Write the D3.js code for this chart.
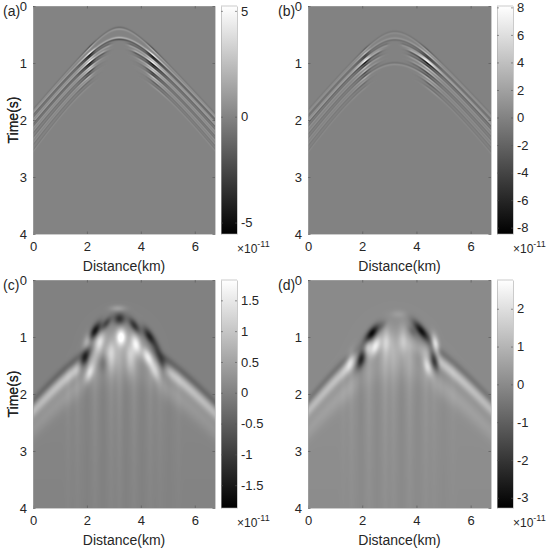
<!DOCTYPE html>
<html>
<head>
<meta charset="utf-8">
<script src="https://cdn.jsdelivr.net/npm/d3@7"></script>
<style>
  body { margin: 0; background: #fff; }
  svg text { font-family: "Liberation Sans", Arial, sans-serif; fill: #262626; }
</style>
</head>
<body>
<div id="main"></div>
<script>
// values; amplitudes are in units of 1e-11
var distanceMax = 6.75, timeMax = 4, apexX = 3.2;
var xTicks = [0, 2, 4, 6];
var tTicks = [0, 1, 2, 3, 4];
var panelNames = ["(a)", "(b)", "(c)", "(d)"];

// colour bar limits and tick labels
var aRange = [-5.54, 5.23], aTicks = [-5, 0, 5];
var bRange = [-8.46, 8.1], bTicks = [-8, -6, -4, -2, 0, 2, 4, 6, 8];
var cRange = [-1.87, 1.83], cTicks = [-1.5, -1, -0.5, 0, 0.5, 1, 1.5];
var dRange = [-3.27, 2.76], dTicks = [-3, -2, -1, 0, 1, 2];

// (a) diffraction events: apex time (s), left / right velocity (km/s), amplitude, near-apex taper (km)
var aT0 = [0.39, 0.57, 0.65, 0.74, 0.82, 0.90, 0.98, 1.06, 1.15];
var aVelL = [1.79, 1.77, 1.72, 1.67, 1.63, 1.58, 1.52, 1.47, 1.41];
var aVelR = [1.91, 1.89, 1.85, 1.81, 1.76, 1.71, 1.67, 1.62, 1.58];
var aAmp = [1.2, -2.8, 2.0, -3.0, 2.0, -1.8, 1.6, -1.3, 1.0];
var aTaper = [0, 0, 0.4, 0.6, 0.8, 1.0, 1.2, 1.4, 1.6];
var aEnvX = [0, 0.8, 1.6, 1.9, 2.1, 2.35, 2.8, 3.2, 3.6, 4.15, 4.45, 4.7, 5.1, 5.8, 6.75];
var aEnvA = [0.38, 0.4, 0.45, 1.0, 1.8, 0.6, 0.55, 0.75, 0.55, 0.65, 1.8, 1.0, 0.45, 0.4, 0.38];

// (b) diffraction events
var bT0 = [0.46, 0.58, 0.66, 0.73, 0.82, 0.92, 1.01, 1.10, 1.20];
var bVelL = [1.80, 1.77, 1.73, 1.68, 1.63, 1.57, 1.52, 1.47, 1.42];
var bVelR = [1.92, 1.89, 1.85, 1.81, 1.76, 1.71, 1.66, 1.61, 1.56];
var bAmp = [1.3, -2.4, 2.4, -4.6, 2.6, -2.2, 1.8, -1.6, 1.2];
var bTaper = [0, 0, 0.3, 0.6, 0.6, 0.7, 0, 1.3, 1.5];
var bEnvX = [0, 0.8, 1.6, 1.9, 2.1, 2.35, 2.8, 3.2, 3.6, 4.05, 4.4, 4.7, 5.0, 5.8, 6.75];
var bEnvA = [0.38, 0.4, 0.45, 0.9, 1.8, 0.55, 0.45, 0.5, 0.45, 0.7, 1.8, 1.0, 0.45, 0.4, 0.38];

// (c) broad limbs, blobs near the apex (position, amplitude, size, tilt), vertical streaks inside the cone
var cLimbT0 = [1.25, 1.6], cLimbVL = [1.65, 1.55], cLimbVR = [1.80, 1.70];
var cLimbAmp = [1.0, 0.28], cLimbSig = [0.085, 0.14];
var cEnvX = [0, 1.0, 1.6, 2.0, 3.2, 4.5, 4.9, 5.6, 6.75];
var cEnvA = [0.8, 0.95, 1.0, 0.4, 0, 0.4, 1.0, 0.95, 0.8];
var cBlobX = [3.15, 3.21, 2.72, 2.29, 3.76, 4.32, 3.27, 3.83, 2.47, 2.03, 1.92, 4.24, 4.78, 2.10, 4.52, 2.90, 3.60, 4.60, 2.60, 3.25];
var cBlobT = [0.50, 0.68, 0.76, 0.90, 0.80, 0.99, 1.00, 1.12, 1.10, 1.06, 1.38, 1.33, 1.47, 1.62, 1.60, 1.30, 1.35, 1.20, 1.45, 1.25];
var cBlobA = [0.45, -1.2, -0.9, -1.7, -1.2, -1.4, 1.8, 1.4, 1.3, 0.9, -1.6, 1.0, -1.3, 1.2, 0.9, 0.6, 0.6, -0.6, -0.4, 0.4];
var cBlobW = [0.20, 0.15, 0.13, 0.16, 0.15, 0.16, 0.13, 0.13, 0.14, 0.12, 0.13, 0.13, 0.14, 0.13, 0.13, 0.14, 0.12, 0.12, 0.12, 0.65];
var cBlobH = [0.04, 0.07, 0.06, 0.08, 0.07, 0.08, 0.10, 0.10, 0.11, 0.09, 0.10, 0.10, 0.10, 0.10, 0.10, 0.20, 0.20, 0.08, 0.12, 0.32];
var cBlobS = [0, 0, -0.4, -0.45, 0.4, 0.45, 0, 0.3, -0.3, -0.45, -0.45, 0.45, 0.45, -0.45, 0.45, 0, 0, 0.45, 0, 0];
var cStreakX = [1.3, 1.65, 2.0, 2.3, 2.6, 2.9, 3.2, 3.45, 3.75, 4.05, 4.35, 4.7, 5.05, 5.4];
var cStreakA = [0.1, 0.12, -0.1, 0.15, -0.12, 0.14, 0.17, -0.1, 0.15, -0.1, 0.13, 0.1, -0.07, 0.08];
var cHaze = 0.12;

// (d)
var dLimbT0 = [1.1, 1.55], dLimbVL = [1.58, 1.50], dLimbVR = [1.78, 1.65];
var dLimbAmp = [1.4, 0.45], dLimbSig = [0.085, 0.14];
var dEnvX = [0, 1.0, 1.5, 1.9, 3.2, 4.5, 4.9, 5.6, 6.75];
var dEnvA = [0.8, 0.95, 1.0, 0.4, 0, 0.4, 1.0, 0.95, 0.8];
var dBlobX = [3.33, 2.35, 4.19, 2.50, 4.70, 1.98, 4.66, 4.42, 2.18, 2.90, 3.50, 3.85, 2.75, 1.55, 3.20];
var dBlobT = [0.60, 0.94, 0.90, 1.15, 1.14, 1.37, 1.40, 1.52, 1.20, 1.05, 1.05, 0.90, 0.80, 1.40, 1.30];
var dBlobA = [0.4, -3.2, -2.9, 1.8, 2.3, -3.0, -2.9, 1.6, 1.5, 0.9, 1.0, -0.7, -0.6, 1.1, 0.6];
var dBlobW = [0.20, 0.18, 0.21, 0.13, 0.10, 0.15, 0.11, 0.12, 0.11, 0.12, 0.12, 0.12, 0.12, 0.12, 0.60];
var dBlobH = [0.05, 0.075, 0.075, 0.10, 0.11, 0.10, 0.11, 0.10, 0.10, 0.17, 0.17, 0.06, 0.06, 0.10, 0.30];
var dBlobS = [0, -0.4, 0.45, -0.45, 0.45, -0.45, 0.45, 0.45, -0.45, 0, 0, 0.3, -0.3, -0.45, 0];
var dStreakX = [1.3, 1.6, 1.95, 2.25, 2.55, 2.85, 3.15, 3.45, 3.75, 4.05, 4.35, 4.65, 5.0, 5.35];
var dStreakA = [0.12, 0.22, -0.22, 0.26, -0.18, 0.3, 0.22, -0.22, 0.26, -0.16, 0.22, 0.16, -0.1, 0.1];
var dHaze = 0.18;

var waveSigma = 0.016, streakWidth = 0.08;

function diffField(t0, velL, velR, amp, taper, envX, envA) {
  var env = d3.scaleLinear().domain(envX).range(envA).clamp(true);
  return function (x, t) {
    var dx = x - apexX, s = 0;
    for (var k = 0; k < t0.length; k++) {
      var v = dx < 0 ? velL[k] : velR[k];
      var T = Math.sqrt(t0[k] * t0[k] + dx * dx / (v * v));
      var u = (t - T) / waveSigma;
      if (u < -5 || u > 5) continue;
      var f = taper[k] > 0 ? Math.min(1, Math.pow(dx / taper[k], 4)) : 1;
      s += amp[k] * f * u * Math.exp(-u * u / 2) / 0.6065;
    }
    return s * env(x);
  };
}

function coneField(lt0, lvl, lvr, lamp, lsig, envX, envA, bx, bt, ba, bw, bh, bs, sx, sa, haze) {
  var env = d3.scaleLinear().domain(envX).range(envA).clamp(true);
  return function (x, t) {
    var dx = x - apexX, s = 0, e = env(x), k, u;
    for (k = 0; k < lt0.length; k++) {
      var v = dx < 0 ? lvl[k] : lvr[k];
      u = (t - Math.sqrt(lt0[k] * lt0[k] + dx * dx / (v * v))) / lsig[k];
      if (u > -7 && u < 5) {
        var w = u + 2.2;
        s += lamp[k] * e * (Math.exp(-u * u / 2) - 0.45 * Math.exp(-w * w));
      }
    }
    for (k = 0; k < bx.length; k++) {
      var gx = (x - bx[k]) / bw[k], gt = (t - bt[k] - bs[k] * (x - bx[k])) / bh[k];
      s += ba[k] * Math.exp(-(gx * gx + gt * gt) / 2);
    }
    var v0 = dx < 0 ? lvl[0] : lvr[0];
    var T0 = Math.sqrt(lt0[0] * lt0[0] + dx * dx / (v0 * v0));
    var inside = 1 / (1 + Math.exp(-(t - T0 + 0.15) / 0.08));
    var depth = Math.exp(-Math.max(0, t - 1.2) / 2.0);
    var st = haze;
    for (k = 0; k < sx.length; k++) {
      u = (x - sx[k]) / streakWidth;
      st += sa[k] * Math.exp(-u * u / 2);
    }
    return s + inside * depth * st;
  };
}

var panels = [
  { left: 33, right: 215, top: 6, bottom: 234, cbLeft: 221, cbRight: 237, range: aRange, ticks: aTicks,
    field: diffField(aT0, aVelL, aVelR, aAmp, aTaper, aEnvX, aEnvA) },
  { left: 308, right: 491, top: 6, bottom: 234, cbLeft: 497, cbRight: 513, range: bRange, ticks: bTicks,
    field: diffField(bT0, bVelL, bVelR, bAmp, bTaper, bEnvX, bEnvA) },
  { left: 33, right: 215, top: 280, bottom: 508, cbLeft: 221, cbRight: 237, range: cRange, ticks: cTicks,
    field: coneField(cLimbT0, cLimbVL, cLimbVR, cLimbAmp, cLimbSig, cEnvX, cEnvA,
      cBlobX, cBlobT, cBlobA, cBlobW, cBlobH, cBlobS, cStreakX, cStreakA, cHaze) },
  { left: 308, right: 491, top: 280, bottom: 508, cbLeft: 497, cbRight: 513, range: dRange, ticks: dTicks,
    field: coneField(dLimbT0, dLimbVL, dLimbVR, dLimbAmp, dLimbSig, dEnvX, dEnvA,
      dBlobX, dBlobT, dBlobA, dBlobW, dBlobH, dBlobS, dStreakX, dStreakA, dHaze) }
];

var svg = d3.select("#main").append("svg").attr("width", 549).attr("height", 550);
var defs = svg.append("defs");
var grad = defs.append("linearGradient").attr("id", "grayBar")
  .attr("x1", 0).attr("y1", 1).attr("x2", 0).attr("y2", 0);
grad.append("stop").attr("offset", "0%").attr("stop-color", "#000");
grad.append("stop").attr("offset", "100%").attr("stop-color", "#fff");

var boxColor = "#a8a8a8", tickColor = "#555";

panels.forEach(function (p, i) {
  var x = d3.scaleLinear().domain([0, distanceMax]).range([p.left, p.right]);
  var y = d3.scaleLinear().domain([0, timeMax]).range([p.top, p.bottom]);
  var gray = d3.scaleLinear().domain(p.range).range([0, 255]).clamp(true);

  // image raster, sampled at twice the screen resolution
  var ss = 2;
  var nx = Math.round((x(distanceMax) - x(0)) * ss), ny = Math.round((y(timeMax) - y(0)) * ss);
  var canvas = document.createElement("canvas");
  canvas.width = nx; canvas.height = ny;
  var ctx = canvas.getContext("2d");
  var img = ctx.createImageData(nx, ny);
  for (var j = 0; j < ny; j++) {
    var t = y.invert(y(0) + (j + 0.5) / ss);
    for (var k = 0; k < nx; k++) {
      var xv = x.invert(x(0) + (k + 0.5) / ss);
      var g = Math.round(gray(p.field(xv, t)));
      var o = (j * nx + k) * 4;
      img.data[o] = g; img.data[o + 1] = g; img.data[o + 2] = g; img.data[o + 3] = 255;
    }
  }
  ctx.putImageData(img, 0, 0);
  svg.append("image")
    .attr("x", x(0)).attr("y", y(0))
    .attr("width", x(distanceMax) - x(0)).attr("height", y(timeMax) - y(0))
    .attr("preserveAspectRatio", "none")
    .attr("href", canvas.toDataURL());

  // axes, ticks pointing inward like MATLAB
  var gb = svg.append("g").attr("transform", "translate(0," + y(timeMax) + ")")
    .call(d3.axisBottom(x).tickValues(xTicks).tickSizeInner(-2.5).tickSizeOuter(0).tickPadding(8)
      .tickFormat(function (d) { return String(d); }));
  var gt = svg.append("g").attr("transform", "translate(0," + y(0) + ")")
    .call(d3.axisTop(x).tickValues(xTicks).tickSizeInner(-2.5).tickSizeOuter(0).tickFormat(""));
  var gl = svg.append("g").attr("transform", "translate(" + x(0) + ",0)")
    .call(d3.axisLeft(y).tickValues(tTicks).tickSizeInner(-2.5).tickSizeOuter(0).tickPadding(6)
      .tickFormat(function (d) { return String(d); }));
  var gr = svg.append("g").attr("transform", "translate(" + x(distanceMax) + ",0)")
    .call(d3.axisRight(y).tickValues(tTicks).tickSizeInner(-2.5).tickSizeOuter(0).tickFormat(""));
  [gb, gt, gl, gr].forEach(function (g) {
    g.select(".domain").attr("stroke", boxColor).attr("stroke-width", 0.6);
    g.selectAll(".tick line").attr("stroke", tickColor).attr("stroke-width", 0.6);
    g.selectAll("text").style("font-size", "13px").attr("fill", "#262626");
  });

  svg.append("text")
    .attr("x", (p.left + p.right) / 2).attr("y", p.bottom + 37)
    .attr("text-anchor", "middle").style("font-size", "14px")
    .text("Distance(km)");
  svg.append("text")
    .attr("transform", "translate(18," + ((p.top + p.bottom) / 2) + ") rotate(-90)")
    .attr("text-anchor", "middle").style("font-size", "14px")
    .text("Time(s)");
  svg.append("text")
    .attr("x", 3 + (i % 2) * 275).attr("y", p.top + 10)
    .style("font-size", "14px")
    .text(panelNames[i]);

  // colour bar
  var cy = d3.scaleLinear().domain(p.range).range([p.bottom, p.top]);
  svg.append("rect")
    .attr("x", p.cbLeft).attr("y", p.top)
    .attr("width", p.cbRight - p.cbLeft).attr("height", p.bottom - p.top)
    .attr("fill", "url(#grayBar)");
  var cr = svg.append("g").attr("transform", "translate(" + p.cbRight + ",0)")
    .call(d3.axisRight(cy).tickValues(p.ticks).tickSizeInner(-2).tickSizeOuter(0).tickPadding(4)
      .tickFormat(function (d) { return String(d); }));
  var cl = svg.append("g").attr("transform", "translate(" + p.cbLeft + ",0)")
    .call(d3.axisLeft(cy).tickValues(p.ticks).tickSizeInner(-2).tickSizeOuter(0).tickFormat(""));
  [cr, cl].forEach(function (g) {
    g.select(".domain").attr("stroke", boxColor).attr("stroke-width", 0.6);
    g.selectAll(".tick line").attr("stroke", tickColor).attr("stroke-width", 0.6);
    g.selectAll("text").style("font-size", "13px").attr("fill", "#262626");
  });
  svg.append("line").attr("x1", p.cbLeft).attr("x2", p.cbRight).attr("y1", p.top).attr("y2", p.top)
    .attr("stroke", boxColor).attr("stroke-width", 0.6);
  svg.append("line").attr("x1", p.cbLeft).attr("x2", p.cbRight).attr("y1", p.bottom).attr("y2", p.bottom)
    .attr("stroke", boxColor).attr("stroke-width", 0.6);

  var ex = svg.append("text").attr("x", p.cbLeft + 16).attr("y", p.bottom + 19).style("font-size", "12px");
  ex.append("tspan").text("\u00d710");
  ex.append("tspan").attr("dy", -6).style("font-size", "9px").text("-11");
});
</script>
</body>
</html>
